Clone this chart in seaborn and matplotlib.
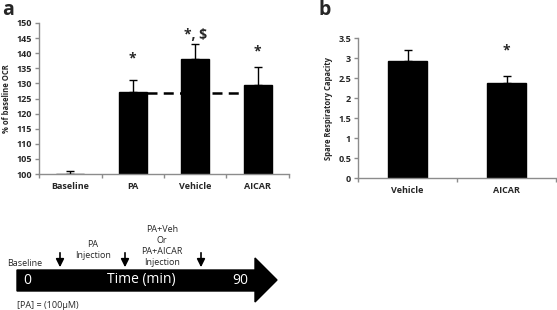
import matplotlib
matplotlib.use("Agg")
import matplotlib.pyplot as plt
import seaborn as sns
import pandas as pd
from matplotlib.patches import Polygon

sns.set_theme(style="white")
plt.rcParams['font.family'] = ['Open Sans', 'DejaVu Sans']

# ---- data ----
a_categories = ["Baseline", "PA", "Vehicle", "AICAR"]
a_values = [100.0, 127.0, 138.0, 129.5]
a_errors = [1.0, 4.0, 5.0, 6.0]
a_marks = ["", "*", "*, $", "*"]
a_mark_y = [0, 137.0, 144.6, 139.4]
a_dashed_level = 126.8
a_yticks = [100, 105, 110, 115, 120, 125, 130, 135, 140, 145, 150]

b_categories = ["Vehicle", "AICAR"]
b_values = [2.92, 2.37]
b_errors = [0.27, 0.17]
b_marks = ["", "*"]
b_mark_y = [0, 3.08]
b_yticks = [0, 0.5, 1, 1.5, 2, 2.5, 3, 3.5]

W, H = 557, 310
fig = plt.figure(figsize=(W / 100, H / 100), dpi=100)

spine_col = "#8c8c8c"

def style_axes(ax, ncat, ylabel, yticks, ylim, yfmt):
    for s in ["top", "right"]:
        ax.spines[s].set_visible(False)
    for s in ["left", "bottom"]:
        ax.spines[s].set_color(spine_col)
        ax.spines[s].set_linewidth(1.0)
    ax.set_ylim(*ylim)
    ax.set_xlim(-0.5, ncat - 0.5)
    ax.set_yticks(yticks)
    ax.set_yticklabels([yfmt(v) for v in yticks], fontsize=6.5, fontweight="bold")
    ax.set_xticks([i - 0.5 for i in range(ncat + 1)])
    ax.set_xticklabels([""] * (ncat + 1))
    ax.set_xticks(range(ncat), minor=True)
    ax.tick_params(axis="x", which="major", direction="out", length=3, color=spine_col, width=1, bottom=True)
    ax.tick_params(axis="x", which="minor", length=0, pad=6, labelsize=6.5, bottom=True)
    ax.tick_params(axis="y", direction="out", length=3, color=spine_col, width=1, left=True, pad=2)
    ax.set_xlabel("")
    ax.set_ylabel(ylabel, fontsize=5.5, fontweight="bold", labelpad=4)

# ---- panel a ----
axa = fig.add_axes([39 / W, 1 - 174 / H, 250 / W, 151 / H])
dfa = pd.DataFrame({"cat": a_categories, "val": a_values})
sns.barplot(data=dfa, x="cat", y="val", color="black", width=0.45, errorbar=None, ax=axa, saturation=1)
for p in axa.patches:
    p.set_edgecolor("black")
axa.errorbar(range(len(a_values)), a_values, yerr=[[0] * len(a_errors), a_errors], fmt="none",
             ecolor="black", elinewidth=1, capsize=3, capthick=1, zorder=1)
axa.plot([1 + 0.225, 3 - 0.225], [a_dashed_level, a_dashed_level], ls=(0, (4, 2.5)), color="black", lw=1.8, zorder=0.5)
for i, m in enumerate(a_marks):
    if m:
        axa.text(i, a_mark_y[i], m, ha="center", va="baseline", fontsize=10, fontweight="bold")
style_axes(axa, 4, "% of baseline OCR", a_yticks, (100, 150), lambda v: f"{v:g}")
axa.set_xticklabels(a_categories, minor=True, fontweight="bold")

# ---- panel b ----
axb = fig.add_axes([358 / W, 1 - 178 / H, 198 / W, 140 / H])
dfb = pd.DataFrame({"cat": b_categories, "val": b_values})
sns.barplot(data=dfb, x="cat", y="val", color="black", width=0.4, errorbar=None, ax=axb, saturation=1)
for p in axb.patches:
    p.set_edgecolor("black")
axb.errorbar(range(len(b_values)), b_values, yerr=[[0] * len(b_errors), b_errors], fmt="none",
             ecolor="black", elinewidth=1, capsize=3, capthick=1, zorder=1)
for i, m in enumerate(b_marks):
    if m:
        axb.text(i, b_mark_y[i], m, ha="center", va="baseline", fontsize=10, fontweight="bold")
style_axes(axb, 2, "Spare Respiratory Capacity", b_yticks, (0, 3.5), lambda v: f"{v:g}")
axb.set_xticklabels(b_categories, minor=True, fontweight="bold")

# ---- panel letters ----
fig.text(2 / W, 1 - 0 / H, "a", fontsize=14, fontweight="bold", va="top", ha="left")
fig.text(318 / W, 1 - 0 / H, "b", fontsize=14, fontweight="bold", va="top", ha="left")

# ---- timeline schematic ----
axt = fig.add_axes([0, 0, 1, 1], zorder=-1)
axt.set_xlim(0, W)
axt.set_ylim(H, 0)
axt.axis("off")
arrow = Polygon([(17, 270), (255, 270), (255, 258), (277, 280), (255, 302), (255, 291), (17, 291)],
                closed=True, facecolor="black", edgecolor="black")
axt.add_patch(arrow)
axt.text(27, 280, "0", color="white", fontsize=10, va="center", ha="center")
axt.text(141, 280, "Time (min)", color="white", fontsize=10, va="center", ha="center")
axt.text(240, 280, "90", color="white", fontsize=10, va="center", ha="center")
axt.text(17, 305, "[PA] = (100\u03bcM)", fontsize=6.5, va="center", ha="left")
axt.text(25, 263, "Baseline", fontsize=6.5, va="center", ha="center")
axt.text(93, 250, "PA\nInjection", fontsize=6.5, va="center", ha="center", linespacing=1.3)
axt.text(162, 246, "PA+Veh\nOr\nPA+AICAR\nInjection", fontsize=6.5, va="center", ha="center", linespacing=1.25)
for x in [60, 125, 201]:
    axt.annotate("", xy=(x, 270), xytext=(x, 250),
                 arrowprops=dict(arrowstyle="-|>,head_length=0.4,head_width=0.2", color="black", lw=1.2))

fig.savefig("out.png", dpi=100)
